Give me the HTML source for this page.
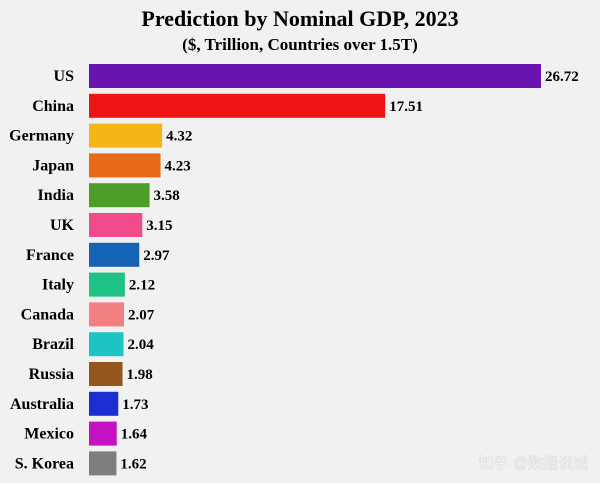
<!DOCTYPE html>
<html><head><meta charset="utf-8"><style>
body{margin:0;background:#f1f1f1;}
svg{display:block}
</style></head><body>
<svg id="chart" width="600" height="483" xmlns="http://www.w3.org/2000/svg">
<rect width="600" height="483" fill="#f1f1f1"/>
<text x="300" y="26" text-anchor="middle" font-family="Liberation Serif, serif" font-weight="bold" font-size="22">Prediction by Nominal GDP, 2023</text>
<text x="300" y="50" text-anchor="middle" font-family="Liberation Serif, serif" font-weight="bold" font-size="17">($, Trillion, Countries over 1.5T)</text>
<g id="bars"></g>
<text x="588" y="468" text-anchor="end" font-family="Liberation Sans, Noto Sans CJK SC, sans-serif" font-size="15" fill="#ffffff" stroke="#cfcfcf" stroke-width="0.4">知乎 @数据谈城</text>
</svg>
<script>
const categories=["US","China","Germany","Japan","India","UK","France","Italy","Canada","Brazil","Russia","Australia","Mexico","S. Korea"];
const values=[26.72,17.51,4.32,4.23,3.58,3.15,2.97,2.12,2.07,2.04,1.98,1.73,1.64,1.62];
const labels=["26.72","17.51","4.32","4.23","3.58","3.15","2.97","2.12","2.07","2.04","1.98","1.73","1.64","1.62"];
const colors=["#6a14b0","#f01414","#f4b616","#e66a18","#4c9e28","#f04c8c","#1662b4","#1ec284","#f28080","#1ec4c2","#94561e","#1a2ed2","#c212c2","#7e7e7e"];
const x0=89,scale=452/26.72,y0=64,pitch=29.8,bh=24;
const X=v=>x0+v*scale, Y=i=>y0+i*pitch;
const g=document.getElementById('bars');
const NS="http://www.w3.org/2000/svg";
categories.forEach((c,i)=>{
  const r=document.createElementNS(NS,'rect');
  r.setAttribute('x',x0);r.setAttribute('y',Y(i));
  r.setAttribute('width',X(values[i])-x0);r.setAttribute('height',bh);
  r.setAttribute('fill',colors[i]);
  
  
  g.appendChild(r);
  const t=document.createElementNS(NS,'text');
  t.setAttribute('x',74);t.setAttribute('y',Y(i)+bh/2+5);
  t.setAttribute('text-anchor','end');
  t.setAttribute('font-family','Liberation Serif, serif');t.setAttribute('font-weight','bold');t.setAttribute('font-size','16');
  t.textContent=c;
  
  
  g.appendChild(t);
  const v=document.createElementNS(NS,'text');
  v.setAttribute('x',X(values[i])+4);v.setAttribute('y',Y(i)+bh/2+5);
  v.setAttribute('font-family','Liberation Serif, serif');v.setAttribute('font-weight','bold');v.setAttribute('font-size','15');
  v.textContent=labels[i];
  
  
  g.appendChild(v);
});
</script>
</body></html>
